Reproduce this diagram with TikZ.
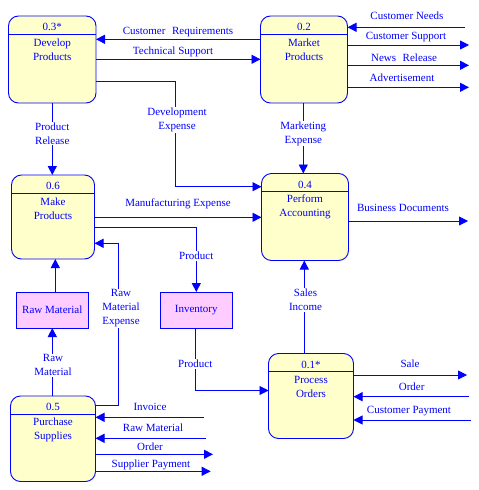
\documentclass[tikz,border=0pt]{standalone}
\usepackage{fontspec}
\setmainfont{Liberation Serif}
\usetikzlibrary{arrows.meta}
\definecolor{dfdblue}{RGB}{0,0,255}
\definecolor{procfill}{RGB}{255,255,204}
\definecolor{storefill}{RGB}{255,204,255}
\begin{document}
\begin{tikzpicture}[x=1pt,y=-1pt,
  font=\fontsize{11}{14}\selectfont,
  every node/.style={text=dfdblue},
  proc/.style={draw=dfdblue, fill=procfill, line width=0.9pt, rounded corners=10pt, anchor=north west, inner sep=0pt, outer sep=0pt},
  store/.style={draw=dfdblue, fill=storefill, line width=0.9pt, anchor=north west, inner sep=0pt, outer sep=0pt, minimum width=71.5pt, minimum height=36pt},
  flow/.style={draw=dfdblue, line width=0.9pt, -{Triangle[length=9pt,width=9pt]}},
  plain/.style={draw=dfdblue, line width=0.9pt},
  lbl/.style={inner sep=1pt, align=center},
  vlbl/.style={fill=white, inner sep=1pt, align=center},
  numtxt/.style={inner sep=0pt},
  divider/.style={draw=dfdblue, line width=0.9pt}
]
\useasboundingbox (0,0) rectangle (479,490);
\fill[white] (0,0) rectangle (479,490);

% processes
\node[proc, minimum width=87.5pt, minimum height=87pt] (p3) at (8.5,16) {};
\node[proc, minimum width=87pt, minimum height=87pt] (p2) at (260.5,16) {};
\node[proc, minimum width=83pt, minimum height=84pt] (p6) at (11.5,175) {};
\node[proc, minimum width=87pt, minimum height=87pt] (p4) at (261.5,173.5) {};
\node[proc, minimum width=85pt, minimum height=85.5pt] (p5) at (10.5,396) {};
\node[proc, minimum width=85pt, minimum height=85pt] (p1) at (268.5,353.5) {};

\foreach \p in {p3,p2,p6,p4,p5,p1}{
  \draw[divider] ([yshift=-18pt]\p.north west) -- ([yshift=-18pt]\p.north east);
}

\node[numtxt] (p3n) at ([yshift=-11pt]p3.north) {0.3*};
\node[lbl] (p3t) at ([yshift=-33.5pt]p3.north) {Develop\\Products};
\node[numtxt] (p2n) at ([yshift=-11pt]p2.north) {0.2};
\node[lbl] (p2t) at ([yshift=-33.5pt]p2.north) {Market\\Products};
\node[numtxt] (p6n) at ([yshift=-11pt]p6.north) {0.6};
\node[lbl] (p6t) at ([yshift=-33.5pt]p6.north) {Make\\Products};
\node[numtxt] (p4n) at ([yshift=-11pt]p4.north) {0.4};
\node[lbl] (p4t) at ([yshift=-33.5pt]p4.north) {Perform\\Accounting};
\node[numtxt] (p5n) at ([yshift=-11pt]p5.north) {0.5};
\node[lbl] (p5t) at ([yshift=-33.5pt]p5.north) {Purchase\\Supplies};
\node[numtxt] (p1n) at ([yshift=-11pt]p1.north) {0.1*};
\node[lbl] (p1t) at ([yshift=-33.5pt]p1.north) {Process\\Orders};

% stores
\node[store] (raw) at (16.5,292) {Raw Material};
\node[store] (inv) at (160.5,292) {Inventory};

% free ends
\coordinate (cnS) at (465,27.3);
\coordinate (csE) at (469,45);
\coordinate (nrE) at (469,65.3);
\coordinate (adE) at (469,87.3);
\coordinate (deA) at (175,81);
\coordinate (deB) at (175,186.7);
\coordinate (prA) at (196.3,227.7);
\coordinate (rmA) at (118,405.7);
\coordinate (rmB) at (118,243.3);
\coordinate (pdA) at (195.3,390.5);
\coordinate (bdE) at (468,221);
\coordinate (saE) at (467,375);
\coordinate (orS) at (469,396.7);
\coordinate (cpS) at (471,420);
\coordinate (ivS) at (204,417.3);
\coordinate (riS) at (205.7,438.3);
\coordinate (ooE) at (213,454.3);
\coordinate (spE) at (210.7,471.3);

% flows
\draw[flow] (p2.west |- 0,39.3) -- (p3.east |- 0,39.3);
\draw[flow] (p3.east |- 0,59.3) -- (p2.west |- 0,59.3);
\draw[flow] (p3.east |- deA) -- (deA) -- (deB) -- (p4.west |- deB);
\draw[flow] (cnS) -- (p2.east |- cnS);
\draw[flow] (p2.east |- csE) -- (csE);
\draw[flow] (p2.east |- nrE) -- (nrE);
\draw[flow] (p2.east |- adE) -- (adE);
\draw[flow] (p3.south -| 52.3,0) -- (p6.north -| 52.3,0);
\draw[flow] (p2.south -| 303.3,0) -- (p4.north -| 303.3,0);
\draw[flow] (p6.east |- 0,217.3) -- (p4.west |- 0,217.3);
\draw[flow] (p6.east |- prA) -- (prA) -- (inv.north -| prA);
\draw[flow] (p5.east |- rmA) -- (rmA) -- (rmB) -- (p6.east |- rmB);
\draw[flow] (raw.north -| 55.3,0) -- (p6.south -| 55.3,0);
\draw[flow] (p5.north -| 52.3,0) -- (raw.south -| 52.3,0);
\draw[flow] (inv.south -| pdA) -- (pdA) -- (p1.west |- pdA);
\draw[flow] (p1.north -| 304.3,0) -- (p4.south -| 304.3,0);
\draw[flow] (p4.east |- bdE) -- (bdE);
\draw[flow] (p1.east |- saE) -- (saE);
\draw[flow] (orS) -- (p1.east |- orS);
\draw[flow] (cpS) -- (p1.east |- cpS);
\draw[flow] (ivS) -- (p5.east |- ivS);
\draw[flow] (riS) -- (p5.east |- riS);
\draw[flow] (p5.east |- ooE) -- (ooE);
\draw[flow] (p5.east |- spE) -- (spE);

% labels
\node[lbl] (lCR) at (178,32) {Customer\hspace{0.6em}Requirements};
\node[lbl] (lTS) at (173,52) {Technical Support};
\node[vlbl] (lDE) at (177,120) {Development\\Expense};
\node[lbl] (lCN) at (407,16) {Customer Needs};
\node[lbl] (lCS) at (406,37) {Customer Support};
\node[lbl] (lNR) at (404,57.3) {News\hspace{0.6em}Release};
\node[lbl] (lAD) at (402,77.3) {Advertisement};
\node[vlbl] (lPR) at (52.3,133.5) {Product\\Release};
\node[vlbl] (lME) at (303.3,133.5) {Marketing\\Expense};
\node[lbl] (lMF) at (178,204.3) {Manufacturing Expense};
\node[vlbl] (lP1) at (196.3,255.7) {Product};
\node[vlbl] (lRE) at (121,308.5) {Raw\\Material\\Expense};
\node[vlbl] (lRM) at (53,365.3) {Raw\\Material};
\node[vlbl] (lP2) at (195.3,364) {Product};
\node[vlbl] (lSI) at (305.5,300.2) {Sales\\Income};
\node[lbl] (lBD) at (403,208) {Business Documents};
\node[lbl] (lSA) at (410,364) {Sale};
\node[lbl] (lOR) at (411.7,387) {Order};
\node[lbl] (lCP) at (409,411.3) {Customer Payment};
\node[lbl] (lIV) at (150,407.3) {Invoice};
\node[lbl] (lRI) at (153,427.3) {Raw Material};
\node[lbl] (lOO) at (150,446.3) {Order};
\node[lbl] (lSP) at (151,465) {Supplier Payment};
\end{tikzpicture}
\end{document}
